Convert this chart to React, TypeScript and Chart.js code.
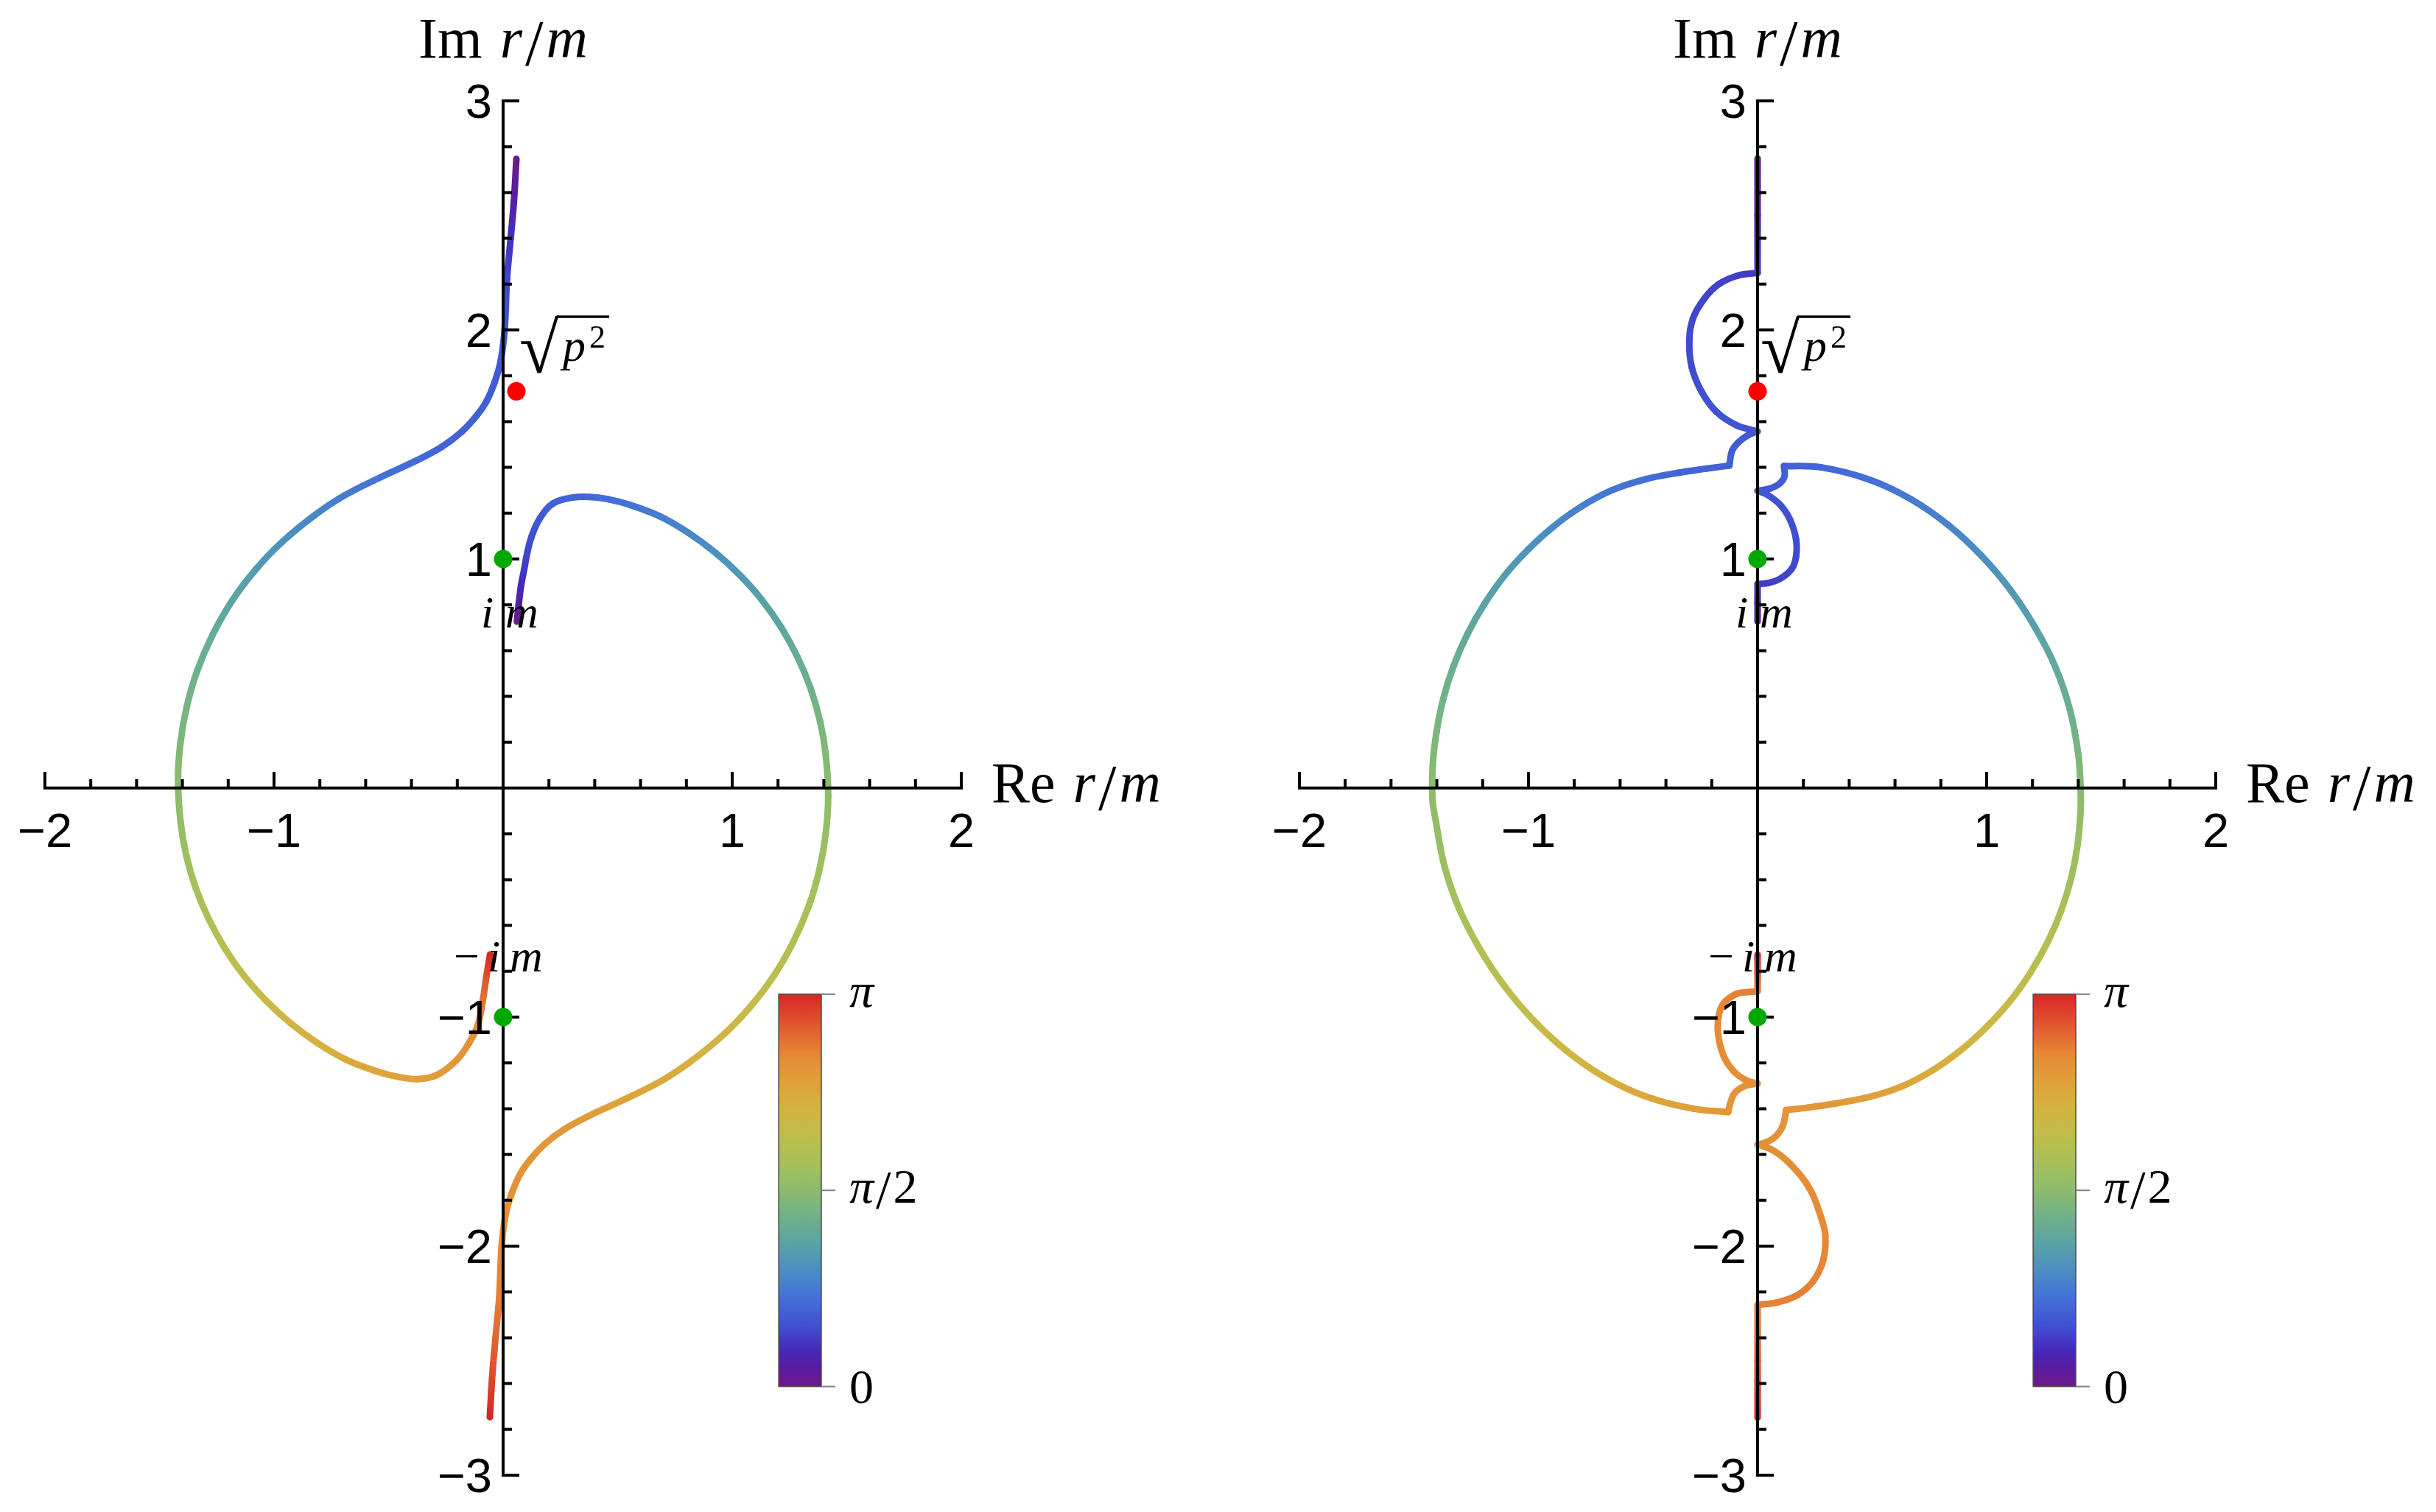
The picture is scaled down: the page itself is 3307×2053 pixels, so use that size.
import React, { useEffect, useRef } from "react";
import { Chart, registerables } from "chart.js";

Chart.register(...registerables);

// ---------------- DATA ----------------
// each point: [Re r/m, Im r/m, phase as fraction of pi]
type P = [number, number, number];

const xTickLabels = [-2, -1, 1, 2];
const yTickLabels = [3, 2, 1, -1, -2, -3];
const colorbarTickValues = [0, 0.5, 1];
const colorbarTickLabels = ["0", "π/2", "π"];

const poles = [
  { x: 0, y: 1 },
  { x: 0, y: -1 },
];
const leftThreshold = { x: 0.058, y: 1.732 };
const rightThreshold = { x: 0, y: 1.732 };

// Left panel: branch starting at the top, ending near -im
const leftCurveA: P[] = [
  [0.058, 2.747, 0.0],
  [0.047, 2.56, 0.06],
  [0.033, 2.4, 0.1],
  [0.017, 2.222, 0.14],
  [0.007, 2.007, 0.165],
  [-0.01, 1.868, 0.175],
  [-0.037, 1.772, 0.18],
  [-0.074, 1.686, 0.185],
  [-0.117, 1.624, 0.19],
  [-0.181, 1.555, 0.195],
  [-0.267, 1.49, 0.2],
  [-0.374, 1.432, 0.21],
  [-0.535, 1.357, 0.23],
  [-0.695, 1.276, 0.255],
  [-0.824, 1.19, 0.28],
  [-0.966, 1.073, 0.31],
  [-1.079, 0.955, 0.34],
  [-1.181, 0.821, 0.37],
  [-1.267, 0.671, 0.4],
  [-1.335, 0.513, 0.425],
  [-1.381, 0.355, 0.45],
  [-1.409, 0.193, 0.47],
  [-1.419, 0.032, 0.495],
  [-1.408, -0.148, 0.52],
  [-1.383, -0.294, 0.545],
  [-1.342, -0.436, 0.57],
  [-1.285, -0.572, 0.595],
  [-1.214, -0.701, 0.62],
  [-1.13, -0.821, 0.645],
  [-1.033, -0.93, 0.67],
  [-0.926, -1.028, 0.695],
  [-0.809, -1.114, 0.72],
  [-0.685, -1.186, 0.74],
  [-0.551, -1.237, 0.76],
  [-0.459, -1.261, 0.77],
  [-0.373, -1.271, 0.78],
  [-0.287, -1.252, 0.79],
  [-0.202, -1.187, 0.805],
  [-0.148, -1.112, 0.82],
  [-0.111, -1.037, 0.84],
  [-0.089, -0.93, 0.88],
  [-0.073, -0.823, 0.93],
  [-0.057, -0.727, 1.0],
];

// Left panel: branch starting near +im, ending at the bottom
const leftCurveB: P[] = [
  [0.06, 0.727, 0.0],
  [0.068, 0.8, 0.05],
  [0.078, 0.882, 0.09],
  [0.092, 0.955, 0.12],
  [0.106, 1.03, 0.14],
  [0.125, 1.1, 0.155],
  [0.162, 1.18, 0.175],
  [0.219, 1.243, 0.19],
  [0.302, 1.268, 0.2],
  [0.377, 1.271, 0.21],
  [0.459, 1.261, 0.22],
  [0.551, 1.237, 0.235],
  [0.685, 1.186, 0.255],
  [0.809, 1.114, 0.28],
  [0.926, 1.028, 0.305],
  [1.033, 0.93, 0.33],
  [1.13, 0.821, 0.355],
  [1.214, 0.701, 0.38],
  [1.285, 0.572, 0.405],
  [1.342, 0.436, 0.43],
  [1.383, 0.294, 0.455],
  [1.408, 0.148, 0.48],
  [1.419, -0.032, 0.505],
  [1.409, -0.193, 0.53],
  [1.381, -0.355, 0.55],
  [1.335, -0.513, 0.575],
  [1.267, -0.671, 0.6],
  [1.181, -0.821, 0.63],
  [1.079, -0.955, 0.66],
  [0.966, -1.073, 0.69],
  [0.824, -1.19, 0.72],
  [0.695, -1.276, 0.745],
  [0.535, -1.357, 0.77],
  [0.374, -1.432, 0.79],
  [0.267, -1.49, 0.8],
  [0.181, -1.555, 0.805],
  [0.117, -1.624, 0.81],
  [0.074, -1.686, 0.815],
  [0.037, -1.772, 0.82],
  [0.01, -1.868, 0.825],
  [-0.007, -2.007, 0.835],
  [-0.017, -2.222, 0.86],
  [-0.033, -2.4, 0.9],
  [-0.047, -2.56, 0.94],
  [-0.058, -2.747, 1.0],
];

// Right panel, branch from the top to -im (smooth pieces between cusps)
const rightA1: P[] = [[0, 2.749, 0.0], [0, 2.5, 0.06], [0, 2.249, 0.12]];
const rightA2: P[] = [
  [0, 2.249, 0.12], [-0.084, 2.238, 0.125], [-0.169, 2.2, 0.13], [-0.233, 2.136, 0.135],
  [-0.282, 2.05, 0.14], [-0.298, 1.954, 0.145], [-0.287, 1.836, 0.15], [-0.244, 1.73, 0.155],
  [-0.18, 1.643, 0.16], [-0.094, 1.585, 0.165], [0, 1.557, 0.17],
];
const rightA3: P[] = [
  [0, 1.557, 0.17], [-0.041, 1.541, 0.175], [-0.084, 1.509, 0.18], [-0.111, 1.473, 0.185],
  [-0.121, 1.424, 0.19], [-0.123, 1.408, 0.19],
];
const rightA4: P[] = [
  [-0.123, 1.408, 0.19], [-0.22, 1.395, 0.195], [-0.341, 1.377, 0.2], [-0.491, 1.348, 0.22],
  [-0.634, 1.301, 0.24], [-0.768, 1.23, 0.265], [-0.892, 1.141, 0.29], [-1.004, 1.039, 0.315],
  [-1.105, 0.927, 0.34], [-1.192, 0.804, 0.365], [-1.266, 0.673, 0.39], [-1.326, 0.536, 0.415],
  [-1.371, 0.393, 0.44], [-1.401, 0.247, 0.46], [-1.418, 0.099, 0.485], [-1.419, -0.05, 0.505],
  [-1.404, -0.147, 0.52], [-1.367, -0.34, 0.545], [-1.303, -0.526, 0.57], [-1.214, -0.7, 0.6],
  [-1.106, -0.863, 0.63], [-0.979, -1.013, 0.66], [-0.834, -1.147, 0.69], [-0.67, -1.261, 0.72],
  [-0.49, -1.346, 0.75], [-0.279, -1.4, 0.785], [-0.128, -1.415, 0.81],
];
const rightA5: P[] = [
  [-0.128, -1.415, 0.81], [-0.121, -1.383, 0.812], [-0.101, -1.333, 0.815], [-0.058, -1.302, 0.818],
  [0, -1.29, 0.82],
];
const rightA6: P[] = [
  [0, -1.29, 0.82], [-0.05, -1.276, 0.825], [-0.108, -1.232, 0.83], [-0.15, -1.165, 0.835],
  [-0.172, -1.075, 0.84], [-0.17, -0.995, 0.845], [-0.148, -0.94, 0.85], [-0.095, -0.9, 0.855],
  [-0.045, -0.891, 0.86], [0, -0.888, 0.86],
];
const rightA7: P[] = [[0, -0.888, 0.86], [0, -0.81, 0.93], [0, -0.727, 1.0]];

// Right panel, branch from +im to the bottom
const rightB1: P[] = [[0, 0.727, 0.0], [0, 0.81, 0.06], [0, 0.891, 0.12]];
const rightB2: P[] = [
  [0, 0.891, 0.12], [0.045, 0.895, 0.125], [0.099, 0.914, 0.13], [0.149, 0.957, 0.14],
  [0.168, 1.011, 0.145], [0.168, 1.086, 0.15], [0.142, 1.171, 0.155], [0.099, 1.236, 0.16],
  [0.045, 1.279, 0.165], [0, 1.298, 0.17],
];
const rightB3: P[] = [
  [0, 1.298, 0.17], [0.055, 1.308, 0.175], [0.097, 1.33, 0.18], [0.118, 1.362, 0.185],
  [0.115, 1.406, 0.19],
];
const rightB4: P[] = [
  [0.115, 1.406, 0.19], [0.279, 1.4, 0.2], [0.49, 1.346, 0.225], [0.67, 1.261, 0.25],
  [0.834, 1.147, 0.275], [0.978, 1.013, 0.3], [1.105, 0.863, 0.33], [1.212, 0.7, 0.36],
  [1.301, 0.526, 0.39], [1.364, 0.34, 0.42], [1.4, 0.147, 0.46], [1.41, 0.0, 0.49],
  [1.41, -0.099, 0.51], [1.397, -0.247, 0.54], [1.369, -0.393, 0.56], [1.325, -0.536, 0.585],
  [1.266, -0.673, 0.61], [1.192, -0.804, 0.635], [1.105, -0.927, 0.66], [1.004, -1.039, 0.685],
  [0.892, -1.141, 0.71], [0.768, -1.23, 0.735], [0.634, -1.301, 0.76], [0.491, -1.348, 0.78],
  [0.341, -1.377, 0.8], [0.22, -1.395, 0.805], [0.124, -1.406, 0.81],
];
const rightB5: P[] = [
  [0.124, -1.406, 0.81], [0.121, -1.43, 0.812], [0.109, -1.478, 0.815], [0.08, -1.52, 0.818],
  [0.035, -1.548, 0.82], [0, -1.556, 0.82],
];
const rightB6: P[] = [
  [0, -1.556, 0.82], [0.07, -1.583, 0.825], [0.143, -1.642, 0.83], [0.228, -1.75, 0.835],
  [0.279, -1.88, 0.84], [0.296, -1.955, 0.845], [0.287, -2.06, 0.85], [0.245, -2.15, 0.855],
  [0.177, -2.212, 0.86], [0.09, -2.245, 0.86], [0, -2.256, 0.86],
];
const rightB7: P[] = [[0, -2.256, 0.86], [0, -2.5, 0.93], [0, -2.749, 1.0]];

// ---------------- STYLE / LAYOUT ----------------
const X_RANGE = [-2, 2];
const Y_RANGE = [-3, 3];
const COLORBAR = { x0: 1.203, x1: 1.389, yTop: -0.9, yBottom: -2.613 };

const RAINBOW: [number, number[]][] = [
  [0.0, [110, 26, 140]],
  [0.05, [88, 28, 160]],
  [0.09, [70, 40, 185]],
  [0.155, [64, 80, 210]],
  [0.224, [67, 112, 216]],
  [0.294, [75, 140, 196]],
  [0.363, [90, 163, 166]],
  [0.432, [111, 177, 138]],
  [0.5, [140, 188, 108]],
  [0.571, [166, 192, 90]],
  [0.64, [191, 189, 77]],
  [0.71, [212, 179, 64]],
  [0.78, [224, 160, 58]],
  [0.85, [230, 134, 54]],
  [0.918, [224, 90, 46]],
  [1.0, [218, 36, 36]],
];

const SERIF = '"Liberation Serif", "DejaVu Serif", serif';
const SANS = '"Liberation Sans", Arial, "DejaVu Sans", sans-serif';

function rgb(c: number[]) {
  return `rgb(${Math.round(c[0])},${Math.round(c[1])},${Math.round(c[2])})`;
}

function phaseColor(t: number): string {
  const s = RAINBOW;
  if (t <= s[0][0]) return rgb(s[0][1]);
  for (let i = 1; i < s.length; i++) {
    if (t <= s[i][0]) {
      const [t0, c0] = s[i - 1];
      const [t1, c1] = s[i];
      const f = (t - t0) / (t1 - t0);
      return rgb([0, 1, 2].map((k) => c0[k] + f * (c1[k] - c0[k])));
    }
  }
  return rgb(s[s.length - 1][1]);
}

function segmentColor(ctx: any) {
  const ds = ctx.chart.data.datasets[ctx.datasetIndex];
  const a = ds.data[ctx.p0DataIndex];
  const b = ds.data[ctx.p1DataIndex];
  const c0 = phaseColor(a.t);
  const c1 = phaseColor(b.t);
  const p0 = ctx.p0;
  const p1 = ctx.p1;
  const dx = p1.x - p0.x;
  const dy = p1.y - p0.y;
  if (dx * dx + dy * dy < 1) return c0;
  const g = ctx.chart.ctx.createLinearGradient(p0.x, p0.y, p1.x, p1.y);
  g.addColorStop(0, c0);
  g.addColorStop(1, c1);
  return g;
}

function fmt(v: number) {
  return v < 0 ? "\u2212" + Math.abs(v) : String(v);
}

function drawAxes(chart: any) {
  const { ctx, scales } = chart;
  const xs = scales.x;
  const ys = scales.y;
  const x0 = xs.getPixelForValue(0);
  const y0 = ys.getPixelForValue(0);
  ctx.save();
  ctx.strokeStyle = "#000";
  ctx.lineWidth = 4;
  ctx.lineCap = "butt";
  ctx.beginPath();
  ctx.moveTo(xs.getPixelForValue(X_RANGE[0]) - 2, y0);
  ctx.lineTo(xs.getPixelForValue(X_RANGE[1]) + 2, y0);
  ctx.moveTo(x0, ys.getPixelForValue(Y_RANGE[1]) - 2);
  ctx.lineTo(x0, ys.getPixelForValue(Y_RANGE[0]) + 2);
  ctx.stroke();
  ctx.beginPath();
  for (let i = X_RANGE[0] * 5; i <= X_RANGE[1] * 5; i++) {
    if (i === 0) continue;
    const px = xs.getPixelForValue(i / 5);
    const len = i % 5 === 0 ? 22 : 12;
    ctx.moveTo(px, y0);
    ctx.lineTo(px, y0 - len);
  }
  for (let i = Y_RANGE[0] * 5; i <= Y_RANGE[1] * 5; i++) {
    if (i === 0) continue;
    const py = ys.getPixelForValue(i / 5);
    const len = i % 5 === 0 ? 22 : 12;
    ctx.moveTo(x0, py);
    ctx.lineTo(x0 + len, py);
  }
  ctx.stroke();
  ctx.restore();
}

type Tok = { s: string; f: string; gap: number; dy?: number };

function drawTokens(ctx: any, toks: Tok[], x: number, y: number, align: "left" | "center") {
  ctx.textAlign = "left";
  ctx.textBaseline = "alphabetic";
  const widths = toks.map((t) => {
    ctx.font = t.f;
    return ctx.measureText(t.s).width;
  });
  let total = 0;
  toks.forEach((t, i) => (total += widths[i] + (i < toks.length - 1 ? t.gap : 0)));
  let cx = align === "center" ? x - total / 2 : x;
  toks.forEach((t, i) => {
    ctx.font = t.f;
    ctx.fillText(t.s, cx, y + (t.dy || 0));
    cx += widths[i] + t.gap;
  });
}

function axisTitle(head: string): Tok[] {
  return [
    { s: head, f: `78px ${SERIF}`, gap: 24 },
    { s: "r", f: `italic 78px ${SERIF}`, gap: 4 },
    { s: "/", f: `88px ${SERIF}`, gap: 4, dy: 10 },
    { s: "m", f: `italic 78px ${SERIF}`, gap: 0 },
  ];
}

function drawLabels(chart: any, threshold: { x: number; y: number }) {
  const { ctx, scales } = chart;
  const xs = scales.x;
  const ys = scales.y;
  const x0 = xs.getPixelForValue(0);
  const y0 = ys.getPixelForValue(0);
  ctx.save();
  ctx.fillStyle = "#000";

  // tick labels
  ctx.font = `65px ${SANS}`;
  ctx.textBaseline = "alphabetic";
  ctx.textAlign = "center";
  for (const v of xTickLabels) ctx.fillText(fmt(v), xs.getPixelForValue(v), y0 + 80);
  ctx.textAlign = "right";
  for (const v of yTickLabels) ctx.fillText(fmt(v), x0 - 15, ys.getPixelForValue(v) + 23);

  // axis titles
  drawTokens(ctx, axisTitle("Im"), x0, ys.getPixelForValue(Y_RANGE[1]) - 59, "center");
  drawTokens(ctx, axisTitle("Re"), xs.getPixelForValue(X_RANGE[1]) + 41, y0 + 19, "left");

  // sqrt(p^2) label next to the threshold point
  const dx = xs.getPixelForValue(threshold.x);
  const dy = ys.getPixelForValue(threshold.y);
  const top = dy - 103;
  const bottom = dy - 24;
  ctx.textAlign = "left";
  ctx.font = `100px ${SERIF}`;
  let m = ctx.measureText("\u221A");
  const h = m.actualBoundingBoxAscent + m.actualBoundingBoxDescent || 80;
  const fs = (100 * (bottom - top)) / h;
  ctx.font = `${fs}px ${SERIF}`;
  m = ctx.measureText("\u221A");
  const rx = dx + 6 + (m.actualBoundingBoxLeft || 0);
  ctx.fillText("\u221A", rx, top + m.actualBoundingBoxAscent);
  const radRight = rx + (m.actualBoundingBoxRight || m.width);
  ctx.fillRect(radRight - 3, top, dx + 126 - (radRight - 3), 3.4);
  ctx.font = `italic 62px ${SERIF}`;
  ctx.fillText("p", Math.max(dx + 63, radRight + 2), dy - 41);
  ctx.font = `44px ${SERIF}`;
  ctx.fillText("2", dx + 99, dy - 59);

  // im and -im labels
  const pUp = ys.getPixelForValue(poles[0].y);
  const pDn = ys.getPixelForValue(poles[1].y);
  ctx.font = `italic 62px ${SERIF}`;
  ctx.fillText("i", x0 - 30, pUp + 93);
  ctx.fillText("m", x0 + 3, pUp + 93);
  ctx.font = `62px ${SERIF}`;
  ctx.fillText("\u2212", x0 - 67, pDn - 62);
  ctx.font = `italic 62px ${SERIF}`;
  ctx.fillText("i", x0 - 21, pDn - 62);
  ctx.fillText("m", x0 + 9, pDn - 62);

  // colour bar
  const l = xs.getPixelForValue(COLORBAR.x0);
  const r = xs.getPixelForValue(COLORBAR.x1);
  const t = ys.getPixelForValue(COLORBAR.yTop);
  const b = ys.getPixelForValue(COLORBAR.yBottom);
  const g = ctx.createLinearGradient(0, b, 0, t);
  for (const [s, c] of RAINBOW) g.addColorStop(s, rgb(c));
  ctx.fillStyle = g;
  ctx.fillRect(l, t, r - l, b - t);
  ctx.strokeStyle = "#4a4a4a";
  ctx.lineWidth = 1.5;
  ctx.strokeRect(l, t, r - l, b - t);
  ctx.strokeStyle = "#808080";
  ctx.lineWidth = 2;
  ctx.fillStyle = "#000";
  colorbarTickValues.forEach((v, i) => {
    const py = b - v * (b - t);
    ctx.beginPath();
    ctx.moveTo(r, py);
    ctx.lineTo(r + 19, py);
    ctx.stroke();
    const label = colorbarTickLabels[i];
    const toks: Tok[] = label.split("").map((ch) => ({
      s: ch,
      f: ch === "π" ? `italic 66px ${SERIF}` : ch === "/" ? `74px ${SERIF}` : `66px ${SERIF}`,
      gap: 3,
      dy: ch === "/" ? 8 : 0,
    }));
    drawTokens(ctx, toks, r + 38, py + (label === "0" ? 22 : 17), "left");
  });
  ctx.restore();
}

type PanelCfg = {
  left: number;
  width: number;
  pad: { left: number; right: number; top: number; bottom: number };
  curves: P[][];
  threshold: { x: number; y: number };
};

const PANELS: Record<string, PanelCfg> = {
  left: {
    left: 0,
    width: 1650,
    pad: { left: 61, right: 345, top: 137, bottom: 50 },
    curves: [leftCurveA, leftCurveB],
    threshold: leftThreshold,
  },
  right: {
    left: 1650,
    width: 1657,
    pad: { left: 114, right: 299, top: 137, bottom: 50 },
    curves: [rightA1, rightA2, rightA3, rightA4, rightA5, rightA6, rightA7,
      rightB1, rightB2, rightB3, rightB4, rightB5, rightB6, rightB7],
    threshold: rightThreshold,
  },
};

const HEIGHT = 2053;

function Panel({ side }: { side: string }) {
  const ref = useRef<HTMLCanvasElement | null>(null);
  const cfg = PANELS[side];
  useEffect(() => {
    const canvas = ref.current;
    if (!canvas) return;
    const dotData = [...poles, cfg.threshold];
    const datasets: any[] = [
      {
        data: dotData,
        showLine: false,
        pointRadius: 12.5,
        pointHoverRadius: 12.5,
        pointBorderWidth: 0,
        pointBackgroundColor: ["#00a800", "#00a800", "#ff0000"],
        pointBorderColor: ["#00a800", "#00a800", "#ff0000"],
      },
      ...cfg.curves.map((piece) => ({
        data: piece.map(([x, y, t]) => ({ x, y, t })),
        showLine: true,
        borderWidth: 9,
        borderColor: phaseColor(piece[0][2]),
        borderCapStyle: "round",
        borderJoinStyle: "round",
        tension: 0.38,
        pointRadius: 0,
        pointHoverRadius: 0,
        fill: false,
        segment: { borderColor: segmentColor },
      })),
    ];
    const chart = new Chart(canvas, {
      type: "line",
      data: { datasets },
      options: {
        animation: false,
        responsive: false,
        devicePixelRatio: 1,
        events: [],
        layout: { padding: cfg.pad, autoPadding: false },
        plugins: { legend: { display: false }, tooltip: { enabled: false } },
        scales: {
          x: { type: "linear", min: X_RANGE[0], max: X_RANGE[1], display: false },
          y: { type: "linear", min: Y_RANGE[0], max: Y_RANGE[1], display: false },
        },
      } as any,
      plugins: [
        {
          id: "decor",
          beforeDatasetDraw(c: any, args: any) {
            if (args.index === 0) drawAxes(c);
          },
          afterDraw(c: any) {
            drawLabels(c, cfg.threshold);
          },
        },
      ],
    });
    return () => chart.destroy();
  }, [side]);
  return (
    <canvas
      ref={ref}
      width={cfg.width}
      height={HEIGHT}
      style={{ position: "absolute", left: cfg.left, top: 0, width: cfg.width, height: HEIGHT }}
    />
  );
}

export default function App() {
  return (
    <div
      style={{
        position: "fixed",
        left: 0,
        top: 0,
        width: 3307,
        height: HEIGHT,
        background: "#ffffff",
        overflow: "hidden",
      }}
    >
      <Panel side="left" />
      <Panel side="right" />
    </div>
  );
}
